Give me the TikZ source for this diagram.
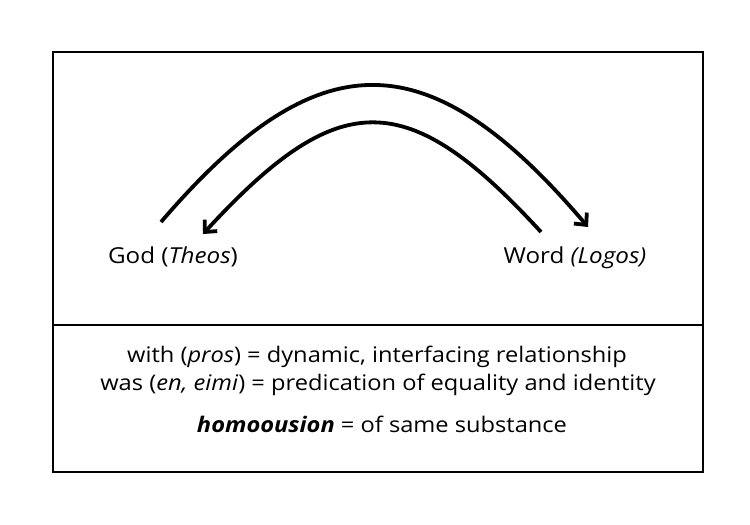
\documentclass[tikz,border=0pt]{standalone}
\usepackage{fontspec}
\setmainfont{Open Sans}
\usetikzlibrary{arrows.meta}
\newcommand{\wide}[1]{\scalebox{1.1}[1]{#1}}
\begin{document}
\begin{tikzpicture}[x=1pt,y=-1pt,
  frame/.style={draw=black,line width=2.2pt},
  arc/.style={line width=3.8pt,-{Straight Barb[length=9pt,width=17pt]}},
  lbl/.style={anchor=base,inner sep=0pt,font=\fontsize{22}{26}\selectfont},
  txt/.style={anchor=base,inner sep=0pt,font=\fontsize{21.5}{26}\selectfont}]
\useasboundingbox (0,0) rectangle (750,525);
\draw[frame] (53,52) rectangle (703,472);
\draw[frame] (53,325) -- (703,325);
\coordinate (o1) at (161,222);
\coordinate (o2) at (588,227);
\coordinate (i1) at (541,232);
\coordinate (i2) at (203,234);
\draw[arc] (o1) .. controls (318,39) and (428,39) .. (o2);
\draw[arc] (i1) .. controls (407,86) and (339,86) .. (i2);
\node[lbl] (god) at (173,263) {\wide{God (\textit{Theos})}};
\node[lbl] (word) at (575,263) {\wide{Word \textit{(Logos)}}};
\node[txt] (l1) at (377,362) {\wide{with (\textit{pros}) = dynamic, interfacing relationship}};
\node[txt] (l2) at (378,390) {\wide{was (\textit{en, eimi}) = predication of equality and identity}};
\node[txt] (l3) at (382,432) {\wide{\textbf{\textit{homoousion}} = of same substance}};
\end{tikzpicture}
\end{document}
